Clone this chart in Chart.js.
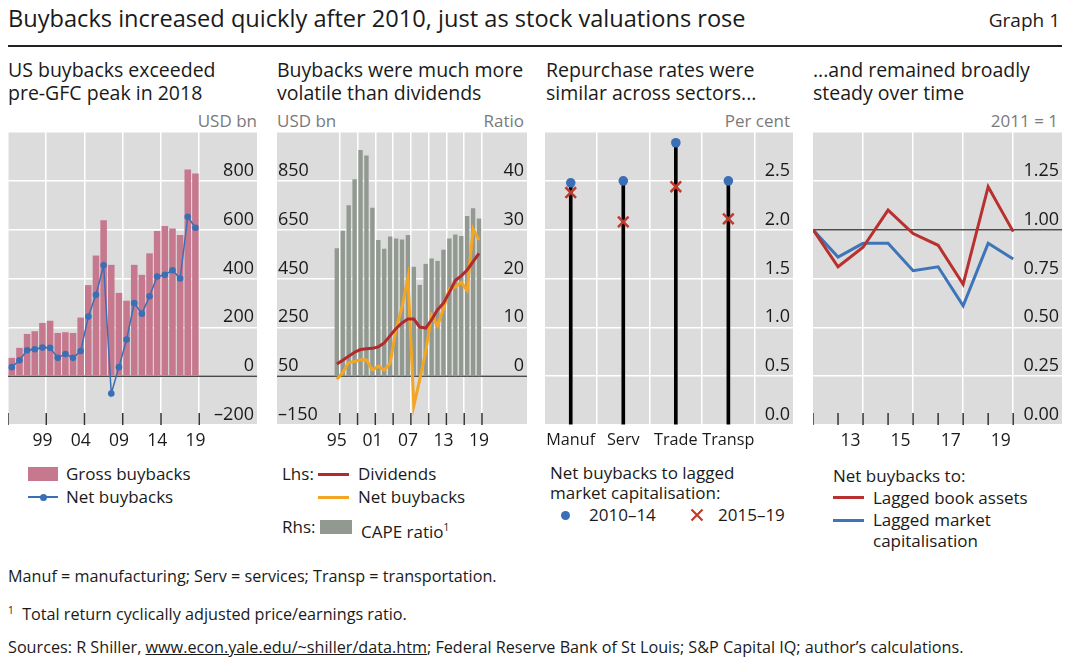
<!DOCTYPE html>
<html lang="en">
<head>
<meta charset="UTF-8">
<title>Graph 1 | Buybacks</title>
<script src="https://cdn.jsdelivr.net/npm/chart.js@4"></script>
<style>
  body { margin: 0; width: 1080px; height: 661px; background: #fff; position: relative; overflow: hidden;
         font-family: 'Open Sans', sans-serif; color: #1a1a1a; }
  .t { position: absolute; white-space: nowrap; }
  .r { text-align: right; }
  .ptitle { font-size: 19.5px; line-height: 23px; top: 58px; }
  .unit { font-size: 17px; line-height: 18px; top: 112px; color: #7a7a7a; }
  .leg { font-size: 17px; line-height: 22px; }
  .note { font-size: 16.2px; line-height: 20px; left: 8px; }
  .sw { position: absolute; }
  canvas { position: absolute; top: 132px; }
</style>
</head>
<body>
  <!-- header -->
  <div class="t" style="left:8px;top:3px;font-size:23.6px;line-height:30px">Buybacks increased quickly after 2010, just as stock valuations rose</div>
  <div class="t r" style="right:20px;top:7px;font-size:19px;line-height:26px">Graph 1</div>
  <div class="sw" style="left:8px;top:45px;width:1054px;height:1.5px;background:#222"></div>

  <!-- panel titles -->
  <div class="t ptitle" style="left:8px">US buybacks exceeded<br>pre-GFC peak in 2018</div>
  <div class="t ptitle" style="left:277px">Buybacks were much more<br>volatile than dividends</div>
  <div class="t ptitle" style="left:546px">Repurchase rates were<br>similar across sectors...</div>
  <div class="t ptitle" style="left:813px">...and remained broadly<br>steady over time</div>

  <!-- units -->
  <div class="t unit r" style="right:823px">USD bn</div>
  <div class="t unit" style="left:277px">USD bn</div>
  <div class="t unit r" style="right:556px">Ratio</div>
  <div class="t unit r" style="right:290px">Per cent</div>
  <div class="t unit r" style="right:22px">2011 = 1</div>

  <canvas id="chart1" width="249" height="327" style="left:8px"></canvas>
  <canvas id="chart2" width="250" height="327" style="left:277px"></canvas>
  <canvas id="chart3" width="248" height="327" style="left:545px"></canvas>
  <canvas id="chart4" width="249" height="327" style="left:813px"></canvas>

  <!-- legend panel 1 -->
  <div class="sw" style="left:28px;top:467px;width:30px;height:14px;background:#c6798e"></div>
  <div class="t leg" style="left:66px;top:463px">Gross buybacks</div>
  <div class="sw" style="left:28px;top:496px;width:30px;height:1.5px;background:#3a6fb5"></div>
  <div class="sw" style="left:39.5px;top:493.5px;width:7px;height:7px;border-radius:50%;background:#3a6fb5"></div>
  <div class="t leg" style="left:66px;top:486px">Net buybacks</div>

  <!-- legend panel 2 -->
  <div class="t leg" style="left:282px;top:463px">Lhs:</div>
  <div class="sw" style="left:318px;top:472.5px;width:31px;height:3px;background:#b22a2e"></div>
  <div class="t leg" style="left:358px;top:463px">Dividends</div>
  <div class="sw" style="left:318px;top:495.5px;width:31px;height:3px;background:#f2a623"></div>
  <div class="t leg" style="left:358px;top:486px">Net buybacks</div>
  <div class="t leg" style="left:282px;top:516px">Rhs:</div>
  <div class="sw" style="left:320px;top:520px;width:32px;height:14px;background:#919991"></div>
  <div class="t leg" style="left:361px;top:516px">CAPE ratio<sup style="font-size:10px">1</sup></div>

  <!-- legend panel 3 -->
  <div class="t leg" style="left:550px;top:463px;line-height:20px">Net buybacks to lagged<br>market capitalisation:</div>
  <div class="sw" style="left:560.5px;top:510.5px;width:9px;height:9px;border-radius:50%;background:#3a6fb5"></div>
  <div class="t leg" style="left:589px;top:504px">2010–14</div>
  <svg class="sw" style="left:690px;top:508px" width="14" height="14"><path d="M1.5 1.5 L12.5 12.5 M12.5 1.5 L1.5 12.5" stroke="#c0392b" stroke-width="2.2"/></svg>
  <div class="t leg" style="left:718px;top:504px">2015–19</div>

  <!-- legend panel 4 -->
  <div class="t leg" style="left:833px;top:465px">Net buybacks to:</div>
  <div class="sw" style="left:833px;top:496px;width:31px;height:3px;background:#b8312f"></div>
  <div class="t leg" style="left:873px;top:487px">Lagged book assets</div>
  <div class="sw" style="left:833px;top:519px;width:31px;height:3px;background:#3e74b8"></div>
  <div class="t leg" style="left:873px;top:509px;line-height:21px">Lagged market<br>capitalisation</div>

  <!-- notes -->
  <div class="t note" style="top:566px">Manuf = manufacturing; Serv = services; Transp = transportation.</div>
  <div class="t note" style="top:600px"><sup style="font-size:10px">1</sup>&nbsp; Total return cyclically adjusted price/earnings ratio.</div>
  <div class="t note" style="top:637px">Sources: R Shiller, <u>www.econ.yale.edu/~shiller/data.htm</u>; Federal Reserve Bank of St Louis; S&amp;P Capital IQ; author’s calculations.</div>

<script>
// ---- Panel 1: US buybacks, USD bn ----
const years = [1995, 1996, 1997, 1998, 1999, 2000, 2001, 2002, 2003, 2004, 2005, 2006, 2007,
               2008, 2009, 2010, 2011, 2012, 2013, 2014, 2015, 2016, 2017, 2018, 2019];
const grossBuybacks = [75, 116, 173, 184, 218, 227, 177, 180, 177, 240, 373, 494, 639,
                       456, 341, 309, 456, 415, 503, 595, 615, 605, 578, 846, 830];
const netBuybacks = [37, 65, 106, 110, 117, 116, 75, 91, 75, 103, 244, 333, 454,
                     -71, 37, 150, 299, 256, 327, 408, 415, 434, 400, 653, 608];
const p1YTicks = [-200, 0, 200, 400, 600, 800, 1000];
const p1YLabels = ['–200', '0', '200', '400', '600', '800', ''];
const p1XTicks = [1994.5, 1999.5, 2004.5, 2009.5, 2014.5, 2019.5];
const p1XLabels = ['', '99', '04', '09', '14', '19'];

// ---- Panel 2: dividends vs buybacks (lhs), CAPE (rhs) ----
const dividends = [100, 115, 132, 148, 159, 162, 164, 170, 186, 216, 245, 268, 284,
                   284, 251, 247, 281, 322, 349, 393, 442, 461, 485, 519, 553];
const capeRatio = [26.2, 29.8, 35.0, 40.3, 46.3, 45.2, 34.5, 27.9, 26.1, 28.6, 28.2, 28.0, 28.9,
                   22.4, 18.7, 23.0, 24.1, 23.6, 25.9, 28.2, 29.0, 28.7, 32.8, 34.4, 32.3];
const p2LhsTicks = [-150, 50, 250, 450, 650, 850, 1050];
const p2LhsLabels = ['–150', '50', '250', '450', '650', '850', ''];
const p2RhsTicks = [-10, 0, 10, 20, 30, 40, 50];
const p2RhsLabels = ['', '0', '10', '20', '30', '40', ''];
const p2XTicks = [1995.5, 1998.5, 2001.5, 2004.5, 2007.5, 2010.5, 2013.5, 2016.5, 2019.5];
const p2XLabels = ['95', '', '01', '', '07', '', '13', '', '19'];

// ---- Panel 3: repurchase rates by sector, per cent ----
const sectors = ['Manuf', 'Serv', 'Trade', 'Transp'];
const rate2010to14 = [2.48, 2.50, 2.89, 2.50];
const rate2015to19 = [2.38, 2.08, 2.44, 2.11];
const p3YTicks = [0, 0.5, 1, 1.5, 2, 2.5, 3];
const p3YLabels = ['0.0', '0.5', '1.0', '1.5', '2.0', '2.5', ''];
const p3XTicks = [0.5, 1.5, 2.5, 3.5];

// ---- Panel 4: net buybacks ratios, 2011 = 1 ----
const indexYears = [2011, 2012, 2013, 2014, 2015, 2016, 2017, 2018, 2019];
const toBookAssets = [1.00, 0.81, 0.91, 1.10, 0.98, 0.92, 0.72, 1.22, 0.99];
const toMarketCap = [1.00, 0.86, 0.93, 0.93, 0.79, 0.81, 0.61, 0.93, 0.85];
const p4YTicks = [0, 0.25, 0.5, 0.75, 1, 1.25, 1.5];
const p4YLabels = ['0.00', '0.25', '0.50', '0.75', '1.00', '1.25', ''];
const p4XTicks = [2011, 2012, 2013, 2014, 2015, 2016, 2017, 2018, 2019];
const p4XLabels = ['', '', '13', '', '15', '', '17', '', '19'];
const p4GridYears = [2013, 2015, 2017, 2019];

Chart.defaults.font.family = "'Open Sans', sans-serif";
Chart.defaults.color = '#1a1a1a';
Chart.defaults.animation = false;
Chart.defaults.plugins.legend.display = false;
Chart.defaults.plugins.tooltip.enabled = false;

const GRAY = '#dcdcdc';

// gray plot background, reference line and the small tick marks inside the bottom edge
const bisPanel = {
  id: 'bisPanel',
  beforeDraw(chart) {
    const { ctx, chartArea: a } = chart;
    ctx.save();
    ctx.fillStyle = GRAY;
    ctx.fillRect(a.left, a.top, a.width, a.height);
    ctx.restore();
  },
  beforeDatasetsDraw(chart, args, opts) {
    const { ctx, chartArea: a } = chart;
    ctx.save();
    if (opts.refValue !== undefined) {
      const y = chart.scales[opts.refAxis || 'y'].getPixelForValue(opts.refValue);
      ctx.strokeStyle = '#4a4a4a';
      ctx.lineWidth = 1.5;
      ctx.beginPath(); ctx.moveTo(a.left, y); ctx.lineTo(a.right, y); ctx.stroke();
    }
    if (opts.tickMarks) {
      ctx.strokeStyle = '#333';
      ctx.lineWidth = 1.5;
      chart.scales.x.ticks.forEach(t => {
        const x = chart.scales.x.getPixelForValue(t.value);
        ctx.beginPath(); ctx.moveTo(x, a.bottom - 12); ctx.lineTo(x, a.bottom); ctx.stroke();
      });
    }
    ctx.restore();
  }
};

function valueAxis(tickValues, labels, position, withGrid) {
  return {
    type: 'linear',
    position,
    min: tickValues[0],
    max: tickValues[tickValues.length - 1],
    afterBuildTicks: s => { s.ticks = tickValues.map(v => ({ value: v })); },
    afterFit: s => { s.width = 0; s.paddingTop = 0; s.paddingBottom = 0; },
    grid: { display: withGrid, color: '#ffffff', lineWidth: 1.5, drawTicks: false },
    border: { display: false },
    ticks: {
      mirror: true,
      padding: position === 'right' ? -3 : 1,
      labelOffset: -10,
      font: { size: 18 },
      callback: (v, i) => labels[i]
    }
  };
}

function catAxis(min, max, tickValues, labels, labelOffset, gridColor, fontSize) {
  return {
    type: 'linear',
    position: 'bottom',
    offset: false,
    min, max,
    afterBuildTicks: s => { s.ticks = tickValues.map(v => ({ value: v })); },
    afterFit: s => { s.height = 34; s.paddingLeft = 0; s.paddingRight = 0; },
    grid: { offset: false, color: gridColor || '#ffffff', lineWidth: 1.5, drawTicks: false },
    border: { display: false },
    ticks: {
      padding: 6, labelOffset, maxRotation: 0, autoSkip: false,
      font: { size: fontSize || 17.5 },
      callback: (v, i) => labels[i]
    }
  };
}

const xy = (xs, ys) => ys.map((v, i) => ({ x: xs[i], y: v }));
const noPad = { padding: 0, autoPadding: false };

// Panel 1
new Chart(document.getElementById('chart1'), {
  type: 'bar',
  data: {
    datasets: [
      {
        type: 'line', label: 'Net buybacks', data: xy(years, netBuybacks), order: 0,
        borderColor: '#3a6fb5', backgroundColor: '#3a6fb5', borderWidth: 1.5,
        pointRadius: 3.3, pointBorderWidth: 0, tension: 0
      },
      {
        label: 'Gross buybacks', data: xy(years, grossBuybacks), order: 1,
        backgroundColor: '#c6798e', categoryPercentage: 1, barPercentage: 0.86
      }
    ]
  },
  options: {
    responsive: false,
    layout: noPad,
    scales: {
      x: catAxis(1994.5, 2027.05, p1XTicks, p1XLabels, -3.8),
      y: valueAxis(p1YTicks, p1YLabels, 'right', true)
    },
    plugins: { bisPanel: { refValue: 0, tickMarks: true } }
  },
  plugins: [bisPanel]
});

// Panel 2
new Chart(document.getElementById('chart2'), {
  type: 'bar',
  data: {
    datasets: [
      {
        type: 'line', label: 'Dividends', data: xy(years, dividends), yAxisID: 'y', order: 0,
        borderColor: '#b22a2e', borderWidth: 3, pointRadius: 0, tension: 0
      },
      {
        type: 'line', label: 'Net buybacks', data: xy(years, netBuybacks), yAxisID: 'y', order: 1,
        borderColor: '#f2a623', borderWidth: 3, pointRadius: 0, tension: 0
      },
      {
        label: 'CAPE ratio', data: xy(years, capeRatio), yAxisID: 'y2', order: 2,
        backgroundColor: '#919991', categoryPercentage: 1, barPercentage: 0.74
      }
    ]
  },
  options: {
    responsive: false,
    layout: noPad,
    scales: {
      x: catAxis(1984.9, 2027.1, p2XTicks, p2XLabels, -2.95),
      y: valueAxis(p2LhsTicks, p2LhsLabels, 'left', true),
      y2: valueAxis(p2RhsTicks, p2RhsLabels, 'right', false)
    },
    plugins: { bisPanel: { refValue: 50, tickMarks: true } }
  },
  plugins: [bisPanel]
});

// Panel 3
const sectorIdx = sectors.map((s, i) => i);
new Chart(document.getElementById('chart3'), {
  type: 'bar',
  data: {
    datasets: [
      {
        type: 'line', label: '2015–19', data: xy(sectorIdx, rate2015to19), order: 0, showLine: false,
        pointStyle: 'crossRot', pointRadius: 7.5, pointBorderWidth: 2.5, borderColor: '#c0392b'
      },
      {
        type: 'line', label: '2010–14', data: xy(sectorIdx, rate2010to14), order: 1, showLine: false,
        pointRadius: 4.8, pointBorderWidth: 0, backgroundColor: '#3a6fb5', borderColor: '#3a6fb5'
      },
      {
        label: 'stem', order: 2,
        data: xy(sectorIdx, rate2010to14.map((v, i) => Math.max(v, rate2015to19[i]))),
        backgroundColor: '#000000', barThickness: 3
      }
    ]
  },
  options: {
    responsive: false,
    layout: noPad,
    scales: {
      x: catAxis(-0.49, 4.23, p3XTicks, sectors, -26.3, null, 16.2),
      y: valueAxis(p3YTicks, p3YLabels, 'right', true)
    },
    plugins: { bisPanel: { tickMarks: false } }
  },
  plugins: [bisPanel]
});

// Panel 4
new Chart(document.getElementById('chart4'), {
  type: 'line',
  data: {
    datasets: [
      {
        label: 'Lagged book assets', data: xy(indexYears, toBookAssets), order: 0,
        borderColor: '#b8312f', borderWidth: 3, pointRadius: 0, tension: 0
      },
      {
        label: 'Lagged market capitalisation', data: xy(indexYears, toMarketCap), order: 1,
        borderColor: '#3e74b8', borderWidth: 3, pointRadius: 0, tension: 0
      }
    ]
  },
  options: {
    responsive: false,
    layout: noPad,
    scales: {
      x: catAxis(2011, 2020.95, p4XTicks, p4XLabels, -12.5,
        c => p4GridYears.includes(c.tick && c.tick.value) ? '#ffffff' : 'rgba(0,0,0,0)'),
      y: valueAxis(p4YTicks, p4YLabels, 'right', true)
    },
    plugins: { bisPanel: { refValue: 1, tickMarks: true } }
  },
  plugins: [bisPanel]
});
</script>
</body>
</html>
